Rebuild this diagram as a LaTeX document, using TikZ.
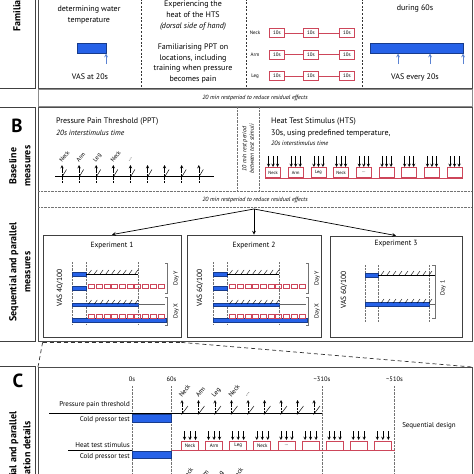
\documentclass[tikz,border=0pt]{standalone}
\usepackage{fontspec}
\setmainfont{PT Sans}
\definecolor{vasblue}{RGB}{38,98,232}
\definecolor{vaslight}{RGB}{90,130,210}
\definecolor{htsred}{RGB}{205,70,90}
\newcommand{\fsz}[2]{\fontsize{#1}{#2}\selectfont}
\tikzset{
  panel/.style={draw=black!70, line width=1pt},
  sidebox/.style={draw=black!75, line width=1pt},
  expbox/.style={draw=black!75, line width=0.8pt, inner sep=0pt},
  colsep/.style={black!80, line width=1pt, dash pattern=on 2pt off 1.6pt},
  dotline/.style={black!55, line width=0.5pt, dash pattern=on 0.6pt off 0.8pt},
  zoomline/.style={black!80, line width=0.7pt, dash pattern=on 4pt off 3pt},
  bluebar/.style={fill=vasblue, draw=vasblue!60!black, line width=0.4pt},
  redbox/.style={draw=htsred, line width=0.7pt, fill=white, inner sep=0pt},
  vasarrow/.style={->, vaslight, line width=0.7pt},
  heatarrow/.style={->, line width=0.5pt},
  sidetitle/.style={rotate=90, font=\bfseries\fsz{10}{14}, align=center},
  txt/.style={font=\fsz{8}{10.7}, align=center},
  rowtxt/.style={anchor=east, font=\fsz{7}{8}, inner sep=0pt},
  sitetxt/.style={rotate=52, anchor=west, inner sep=0.5pt},
}
\begin{document}
\begin{tikzpicture}[x=1pt, y=-1pt, >=stealth]
    \useasboundingbox (0,0) rectangle (474,474);
    \clip (0,0) rectangle (474,474);
    % side labels
    \draw[sidebox] (-2,-5) rectangle (35,88);
    \draw[sidebox] (-2,107) rectangle (35,341);
    \draw[sidebox] (-2,366) rectangle (35,480);
    \node[sidetitle, anchor=west] (famlbl) at (17,35) {Familiarisation};
    \node[font=\bfseries\fsz{19}{19}] (Blbl) at (17,125.5) {B};
    \node[sidetitle] (baselbl) at (20,166) {Baseline\\measures};
    \node[sidetitle] (seqlbl) at (20,272) {Sequential and parallel\\measures};
    \node[font=\bfseries\fsz{19}{19}] (Clbl) at (18,381) {C};
    \node[sidetitle, anchor=east] (detlbl) at (20,408) {Sequential and parallel\\stimulation details};
    % panels
    \draw[panel] (38,-5) rectangle (472,88);
    \draw[panel, draw=black!45] (38,89.5) rectangle (472,106);
    \node[font=\itshape\fsz{6}{7}] (rest1) at (255,98) {20 min restperiod to reduce residual effects};
    \draw[panel] (38,107) rectangle (472,341);
    \draw[panel] (38,367) rectangle (472,480);
    % familiarisation
    \foreach \x in {141,246,362}
        \draw[colsep] (\x,-5) -- (\x,88);
    \node[txt] (wtemp) at (89,15) {determining water\\temperature};
    \draw[bluebar] (77,43) rectangle (106,53);
    \draw[vasarrow] (106,64) -- (106,53.5);
    \node[txt] (vas20) at (90,77) {VAS at 20s};
    \node[txt] (htsexp) at (193,15.5) {Experiencing the\\heat of the HTS\\\textit{(dorsal side of hand)}};
    \node[txt] (pptfam) at (193,63.5) {Familiarising PPT on\\locations, including\\training when pressure\\becomes pain};
    \foreach \site/\y in {Neck/33, Arm/54.5, Leg/76} {
        \node[font=\fsz{5}{6}] (fam\site) at (255,\y) {\site};
        \draw[htsred, line width=0.7pt] (277,\y) -- (347,\y);
        \foreach \x [count=\k] in {277,311,347}
            \node[redbox, minimum width=15pt, minimum height=9pt, font=\fsz{5}{6}] (fam\site\k) at (\x,\y) {10s};
    }
    \node[txt] (dur60) at (415,8) {during 60s};
    \draw[bluebar] (370,43) rectangle (463,53);
    \foreach \x in {398,430,463}
        \draw[vasarrow] (\x,64) -- (\x,53.5);
    \node[txt] (vasevery) at (415,77) {VAS every 20s};
    % baseline measures
    \draw[dotline] (38,191) -- (472,191);
    \draw[dotline] (38,207) -- (472,207);
    \node[font=\itshape\fsz{6}{7}] (rest2) at (255,199.5) {20 min restperiod to reduce residual effects};
    \draw[dotline] (237,107) -- (237,191);
    \draw[dotline] (259,107) -- (259,191);
    \node[rotate=90, font=\itshape\fsz{6}{7.5}, align=center] (rest10) at (248,149) {10 min rest period\\between test stimuli};
    \node[anchor=west, font=\fsz{8}{9}, inner sep=0pt] (ppttitle) at (56,122) {Pressure Pain Threshold (PPT)};
    \node[anchor=west, font=\itshape\fsz{7.5}{9}, inner sep=0pt] (pptisi) at (56,133) {20s interstimulus time};
    \draw[line width=0.5pt] (55,176.5) -- (214,176.5);
    \foreach \i in {0,...,8} {
        \pgfmathsetmacro\x{62+17.1*\i}
        \draw[dotline, black] (\x,171) -- (\x,183);
        \draw[->, line width=0.5pt] (\x,171) -- (\x,165);
        \draw[line width=0.5pt] (\x,177) -- (\x+4.5,169.5);
    }
    \foreach \site/\x [count=\k] in {Neck/62, Arm/79.1, Leg/96.2, Neck/113.3, \ldots/130.4}
        \node[sitetxt, font=\fsz{6}{7}] (bppt\k) at (\x-2,162) {\site};
    \node[anchor=west, font=\fsz{8}{9}, inner sep=0pt] (htstitle) at (271,122) {Heat Test Stimulus (HTS)};
    \node[anchor=west, font=\fsz{8}{9}, inner sep=0pt] (htstemp) at (271,133) {30s, using predefined temperature,};
    \node[anchor=west, font=\itshape\fsz{6.3}{7}, inner sep=0pt] (htsisi) at (271,143.5) {20s interstimulus time};
    \draw[htsred, line width=0.6pt] (265,178) -- (463,178);
    \foreach \site/\x [count=\k] in {Neck/273, Arm/295.7, Leg/318.4, Neck/341.1, \ldots/363.8, /386.5, /409.2, /431.9, /454.6} {
        \node[redbox, minimum width=15pt, minimum height=10pt, font=\fsz{4.5}{5}, anchor=south] (bhts\k) at (\x,178) {\site};
        \foreach \dx in {-4.5,0,4.5}
            \draw[heatarrow] (\x+\dx,156) -- (\x+\dx,167);
    }
    % experiments
    \coordinate (split) at (254,209);
    \node[expbox, minimum width=138pt, minimum height=102pt] (exp1) at (112,286) {};
    \node[expbox, minimum width=134pt, minimum height=102pt] (exp2) at (254,286) {};
    \node[expbox, minimum width=132pt, minimum height=101pt] (exp3) at (396,286.5) {};
    \foreach \e in {exp1,exp2,exp3}
        \draw[->, line width=0.7pt] (split) -- (\e.north);
    \node[font=\fsz{7.5}{9}] (exp1t) at (112,246) {Experiment 1};
    \node[font=\fsz{7.5}{9}] (exp2t) at (254,246) {Experiment 2};
    \node[font=\fsz{7.5}{9}] (exp3t) at (396,244) {Experiment 3};
    \node[rotate=90, font=\fsz{7.5}{9}] (vas1) at (60,288) {VAS 40/100};
    \node[rotate=90, font=\fsz{7.5}{9}] (vas2) at (200,288) {VAS 60/100};
    \node[rotate=90, font=\fsz{7.5}{9}] (vas3) at (344,290) {VAS 60/100};
    \foreach \dx in {0,141} {
        \foreach \x in {72,86,138}
            \draw[dotline] (\x+\dx,262) -- (\x+\dx,324);
        \draw[bluebar] (72+\dx,272.5) rectangle (86+\dx,276);
        \draw[line width=0.5pt] (86+\dx,274) -- (138+\dx,274);
        \draw[bluebar] (72+\dx,286.5) rectangle (86+\dx,290);
        \draw[bluebar] (72+\dx,303) rectangle (138+\dx,306.5);
        \draw[black!60, line width=0.5pt] (138+\dx,304.5) -- (165+\dx,304.5);
        \draw[bluebar] (72+\dx,318.5) rectangle (166+\dx,322);
        \foreach \i in {0,...,8} {
            \draw[line width=0.4pt] (88.5+\dx+5.8*\i,274) -- (91.5+\dx+5.8*\i,270);
            \draw[line width=0.4pt] (88.5+\dx+5.8*\i,304) -- (91.5+\dx+5.8*\i,300);
        }
        \foreach \i in {0,...,9} {
            \draw[htsred, line width=0.6pt] (88.5+\dx+7.7*\i,284.5) rectangle (94.5+\dx+7.7*\i,288.5);
            \draw[htsred, line width=0.6pt] (88.5+\dx+7.7*\i,314.5) rectangle (94.5+\dx+7.7*\i,318.5);
        }
        \draw[black!55, line width=0.4pt] (165+\dx,263) -- (167+\dx,263) -- (167+\dx,293) -- (165+\dx,293);
        \draw[black!55, line width=0.4pt] (165+\dx,297) -- (167+\dx,297) -- (167+\dx,325) -- (165+\dx,325);
        \node[rotate=90, font=\fsz{6}{7}] (dayY\dx) at (176+\dx,278) {Day Y};
        \node[rotate=90, font=\fsz{6}{7}] (dayX\dx) at (176+\dx,311) {Day X};
    }
    \foreach \x in {365,378,429}
        \draw[dotline] (\x,265) -- (\x,322);
    \draw[bluebar] (365,273) rectangle (378,277);
    \draw[line width=0.5pt] (378,275) -- (435,275);
    \draw[bluebar] (365,302.5) rectangle (429,306);
    \draw[black!60, line width=0.5pt] (429,304) -- (435,304);
    \foreach \i in {0,...,8} {
        \draw[line width=0.4pt] (381+6*\i,275) -- (384+6*\i,271);
        \draw[line width=0.4pt] (381+6*\i,303) -- (384+6*\i,299);
    }
    \draw[black!55, line width=0.4pt] (432,265) -- (435,265) -- (435,318) -- (432,318);
    \node[rotate=90, font=\fsz{6}{7}] (day1) at (443,288) {Day 1};
    % zoom
    \coordinate (zoomL) at ([yshift=-5pt]exp1.south west);
    \coordinate (zoomR) at ([yshift=-5pt]exp1.south east);
    \coordinate (Cnw) at (38,367);
    \coordinate (Cne) at (472,367);
    \draw[zoomline] (zoomL) -- (zoomR);
    \draw[zoomline] (zoomL) -- (Cnw);
    \draw[zoomline] (zoomR) -- (Cne);
    % stimulation details
    \foreach \t/\x [count=\k] in {0s/132, 60s/171.5, \textasciitilde310s/322, \textasciitilde510s/394.5} {
        \node[font=\fsz{6.5}{7}] (time\k) at (\x,379) {\t};
        \draw[dotline] (\x,386) -- (\x,480);
    }
    \node[rowtxt] (cppt) at (130,405) {Pressure pain threshold};
    \draw[line width=0.5pt] (49,413.5) -- (322,413.5);
    \node[rowtxt] (ccpt1) at (130,419.5) {Cold pressor test};
    \draw[bluebar] (132,414) rectangle (171.5,422);
    \foreach \i in {0,...,8} {
        \pgfmathsetmacro\x{182+16.5*\i}
        \draw[dotline, black] (\x,405) -- (\x,414);
        \draw[->, line width=0.5pt] (\x,405) -- (\x,400);
        \draw[line width=0.5pt] (\x-0.5,414.5) -- (\x+6,406);
    }
    \foreach \site/\x [count=\k] in {Neck/182, Arm/198.5, Leg/215, Neck/231.5, \ldots/248}
        \node[sitetxt, font=\fsz{6.5}{7}] (cppt\k) at (\x-2,397) {\site};
    \node[rowtxt] (chts) at (130,445) {Heat test stimulus};
    \draw[line width=0.5pt] (68,450.5) -- (132,450.5);
    \draw[htsred, line width=0.6pt] (171.5,450.5) -- (394.5,450.5);
    \node[rowtxt] (ccpt2) at (130,456.5) {Cold pressor test};
    \draw[bluebar] (132,451) rectangle (171.5,458.5);
    \foreach \site/\x [count=\k] in {Neck/190, Arm/214.1, Leg/238.2, Neck/262.3, \ldots/286.4, /310.5, /334.6, /358.7, /382.8} {
        \node[redbox, minimum width=17pt, minimum height=9pt, font=\fsz{5}{6}, anchor=south] (chts\k) at (\x,450.5) {\site};
        \foreach \dx in {-5.5,0,5.5}
            \draw[heatarrow] (\x+\dx,431) -- (\x+\dx,440);
    }
    \node[font=\fsz{7}{8}] (seqdes) at (429,426) {Sequential design};
    \foreach \site/\x [count=\k] in {Neck/185, Arm/202, Leg/218, Neck/235}
        \node[sitetxt, font=\fsz{6.5}{7}] (pppt\k) at (\x-2,480) {\site};
  \end{tikzpicture}
\end{document}
